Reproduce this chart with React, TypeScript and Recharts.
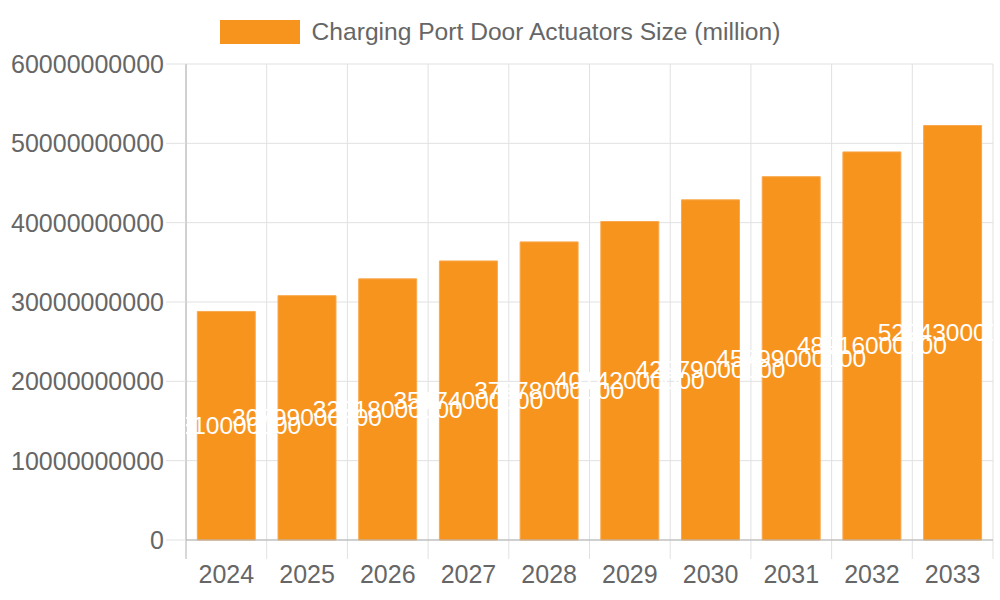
import * as RC from "recharts";
import {
  BarChart,
  Bar,
  CartesianGrid,
  XAxis,
  YAxis,
  Legend,
  LabelList,
} from "recharts";

const years = ["2024", "2025", "2026", "2027", "2028", "2029", "2030", "2031", "2032", "2033"];
const sizes = [
  28810000000, 30799000000, 32918000000, 35174000000, 37578000000,
  40142000000, 42879000000, 45799000000, 48916000000, 52243000000,
];
const yTicks = [0, 10000000000, 20000000000, 30000000000, 40000000000, 50000000000, 60000000000];
const seriesName = "Charging Port Door Actuators Size (million)";

const data = years.map((year, i) => ({ year, size: sizes[i] }));

const FONT = '"Liberation Sans", Arial, Helvetica, sans-serif';
const ORANGE = "#f7941e";
const GRID = "#e1e1e1";
const AXIS = "#b0b0b0";
const TEXT = "#666666";

// clip path for the data labels + tick marks between the categories
function PlotDecor() {
  const area = (RC as any).usePlotArea ? (RC as any).usePlotArea() : null;
  if (!area) return null;
  const step = area.width / years.length;
  const bottom = area.y + area.height;
  const marks = [];
  for (let i = 0; i <= years.length; i++) {
    const x = area.x + i * step;
    marks.push(
      <line
        key={i}
        x1={x}
        x2={x}
        y1={bottom}
        y2={bottom + 19}
        stroke={i === 0 ? AXIS : GRID}
        strokeWidth={1}
      />
    );
  }
  return (
    <g>
      <defs>
        <clipPath id="plotClip">
          <rect x={area.x} y={area.y} width={area.width} height={area.height} />
        </clipPath>
      </defs>
      {marks}
    </g>
  );
}

const ValueLabel = (props: any) => {
  const { x, y, width, height, value } = props;
  return (
    <text
      x={x + width / 2}
      y={y + height / 2}
      textAnchor="middle"
      dominantBaseline="central"
      fill="#ffffff"
      fontSize={24.5}
      fontFamily={FONT}
      clipPath="url(#plotClip)"
    >
      {String(value)}
    </text>
  );
};

const LegendContent = () => (
  <div
    style={{
      display: "flex",
      justifyContent: "center",
      alignItems: "center",
      fontFamily: FONT,
      fontSize: 24.6,
      color: TEXT,
    }}
  >
    <span
      style={{
        display: "inline-block",
        width: 80,
        height: 24,
        background: ORANGE,
        marginRight: 12,
      }}
    />
    <span>{seriesName}</span>
  </div>
);

export default function App() {
  return (
    <div style={{ position: "absolute", left: 0, top: 0, width: 1000, height: 600, background: "#fff" }}>
      <BarChart
        width={1000}
        height={600}
        data={data}
        margin={{ top: 64, right: 7, left: 0, bottom: 0 }}
        barCategoryGap="14%"
      >
        <CartesianGrid
          stroke={GRID}
          verticalCoordinatesGenerator={({ offset, width }: any) => {
            const left = offset.left;
            const w = offset.width ?? width - offset.left - offset.right;
            return years.map((_, i) => left + (i * w) / years.length).concat(left + w);
          }}
        />
        <XAxis
          dataKey="year"
          height={60}
          tickSize={20}
          tickMargin={5}
          tickLine={false}
          axisLine={{ stroke: AXIS }}
          tick={{ fontSize: 25, fill: TEXT, fontFamily: FONT }}
        />
        <YAxis
          width={186}
          domain={[0, 60000000000]}
          ticks={yTicks}
          tickFormatter={(v: number) => String(v)}
          tickSize={20}
          tickMargin={2}
          tickLine={{ stroke: GRID }}
          axisLine={{ stroke: AXIS }}
          tick={{ fontSize: 25, fill: TEXT, fontFamily: FONT }}
        />
        <Legend
          layout="horizontal"
          verticalAlign="middle"
          align="center"
          wrapperStyle={{ top: 18, left: 0, width: 1000 }}
          content={<LegendContent />}
        />
        <Bar
          dataKey="size"
          name={seriesName}
          fill={ORANGE}
          stroke="#f9a94f"
          strokeWidth={1}
          isAnimationActive={false}
        >
          <LabelList dataKey="size" content={<ValueLabel />} />
        </Bar>
        <PlotDecor />
      </BarChart>
    </div>
  );
}
